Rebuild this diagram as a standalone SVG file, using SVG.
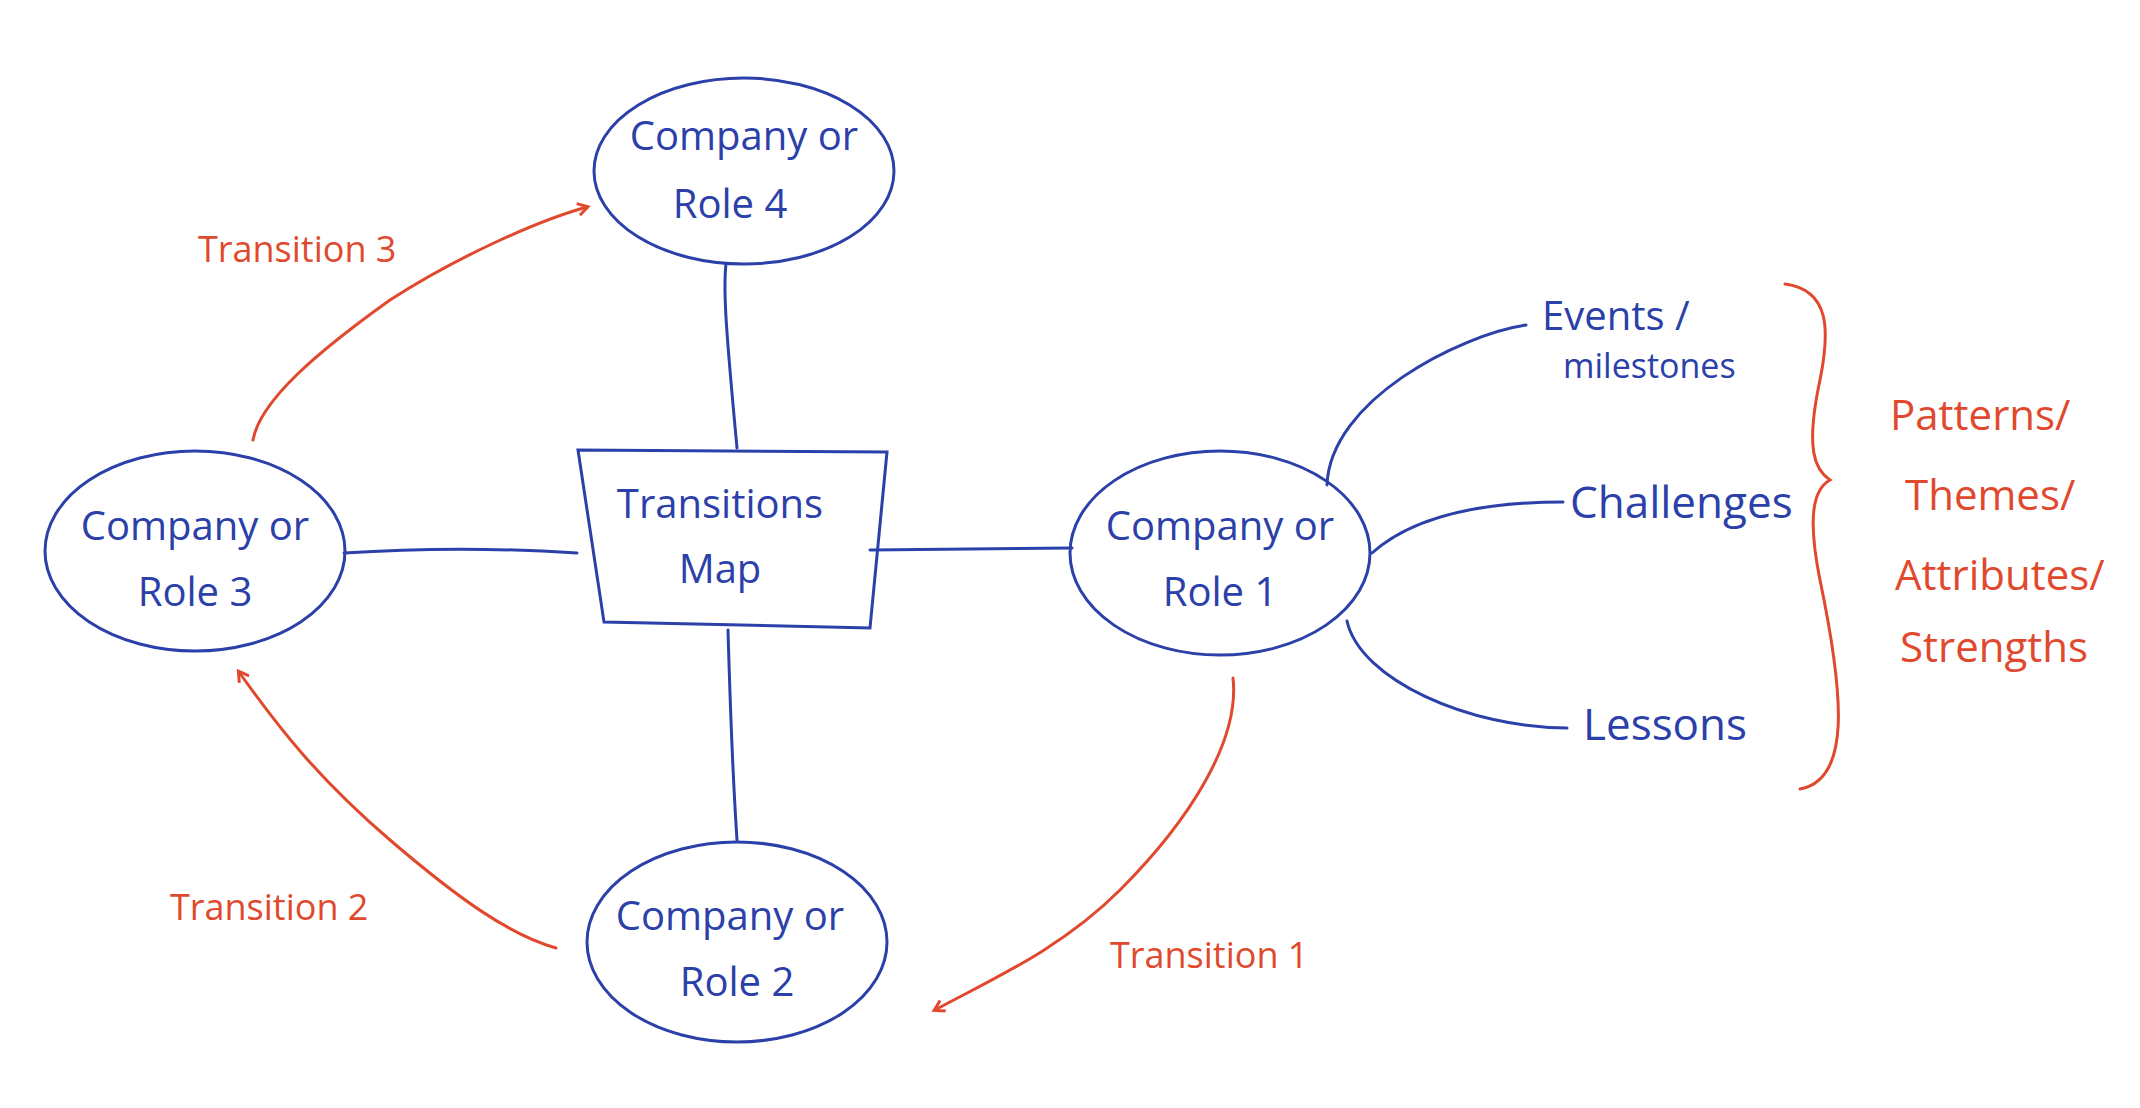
<svg xmlns="http://www.w3.org/2000/svg" width="2140" height="1108" viewBox="0 0 2140 1108">
<style>
.b{fill:none;stroke:#2b40a8;stroke-width:3;stroke-linecap:round}
.r{fill:none;stroke:#e0492e;stroke-width:3;stroke-linecap:round}
.tb{fill:#2b40a8;font-family:"Open Sans",sans-serif;font-size:40px;text-anchor:middle}
.tr{fill:#e0492e;font-family:"Open Sans",sans-serif;font-size:36px}
</style>
<defs>
<marker id="ah" markerWidth="14" markerHeight="14" refX="10" refY="7" orient="auto" markerUnits="userSpaceOnUse"><path d="M1,1 L11,7 L1,13" fill="none" stroke="#e0492e" stroke-width="3"/></marker>
</defs>
<rect width="2140" height="1108" fill="#fff"/>
<g id="connectors">
<path class="b" d="M726,264 C723,290 726,330 737,448"/>
<path class="b" d="M344,553 C420,548 500,548 577,553"/>
<path class="b" d="M870,550 L1072,548"/>
<path class="b" d="M728,630 C730,700 733,780 737,840"/>
<path class="b" d="M1327,485 C1330,400 1460,335 1526,325"/>
<path class="b" d="M1372,553 C1420,510 1500,502 1563,502"/>
<path class="b" d="M1347,621 C1360,680 1470,728 1567,728"/>
<path class="r" d="M253,440 C260,400 320,350 390,300 C460,255 540,220 587,207" marker-end="url(#ah)"/>
<path class="r" d="M556,948 C510,935 460,900 390,840 C320,780 280,730 239,672" marker-end="url(#ah)"/>
<path class="r" d="M1233,678 C1240,740 1190,820 1120,890 C1060,950 990,980 935,1010" marker-end="url(#ah)"/>
<path class="r" d="M1785,284 C1830,290 1830,330 1820,380 C1805,450 1815,470 1830,480 C1812,490 1808,520 1820,580 C1845,700 1850,780 1800,789"/>
</g>
<g id="role4"><ellipse class="b" cx="744" cy="171" rx="150" ry="93"/><text class="tb" x="744" y="150">Company or</text><text class="tb" x="730" y="218">Role 4</text></g>
<g id="role3"><ellipse class="b" cx="195" cy="551" rx="150" ry="100"/><text class="tb" x="195" y="540">Company or</text><text class="tb" x="195" y="606">Role 3</text></g>
<g id="role1"><ellipse class="b" cx="1220" cy="553" rx="150" ry="102"/><text class="tb" x="1220" y="540">Company or</text><text class="tb" x="1220" y="606">Role 1</text></g>
<g id="role2"><ellipse class="b" cx="737" cy="942" rx="150" ry="100"/><text class="tb" x="730" y="930">Company or</text><text class="tb" x="737" y="996">Role 2</text></g>
<g id="map"><path class="b" d="M578,450 L887,452 L870,628 L604,622 Z"/><text class="tb" x="720" y="518">Transitions</text><text class="tb" x="720" y="583">Map</text></g>
<g id="branches" class="tb" style="text-anchor:start">
<text x="1542" y="330">Events /</text>
<text x="1563" y="378" style="font-size:34px">milestones</text>
<text x="1570" y="518" style="font-size:44px">Challenges</text>
<text x="1583" y="740" style="font-size:44px">Lessons</text>
</g>
<g id="patterns" class="tr" style="font-size:42px">
<text x="1890" y="430">Patterns/</text>
<text x="1905" y="510">Themes/</text>
<text x="1895" y="590">Attributes/</text>
<text x="1900" y="662">Strengths</text>
</g>
<g id="labels" class="tr">
<text x="198" y="262">Transition 3</text>
<text x="170" y="920">Transition 2</text>
<text x="1110" y="968">Transition 1</text>
</g>
</svg>
